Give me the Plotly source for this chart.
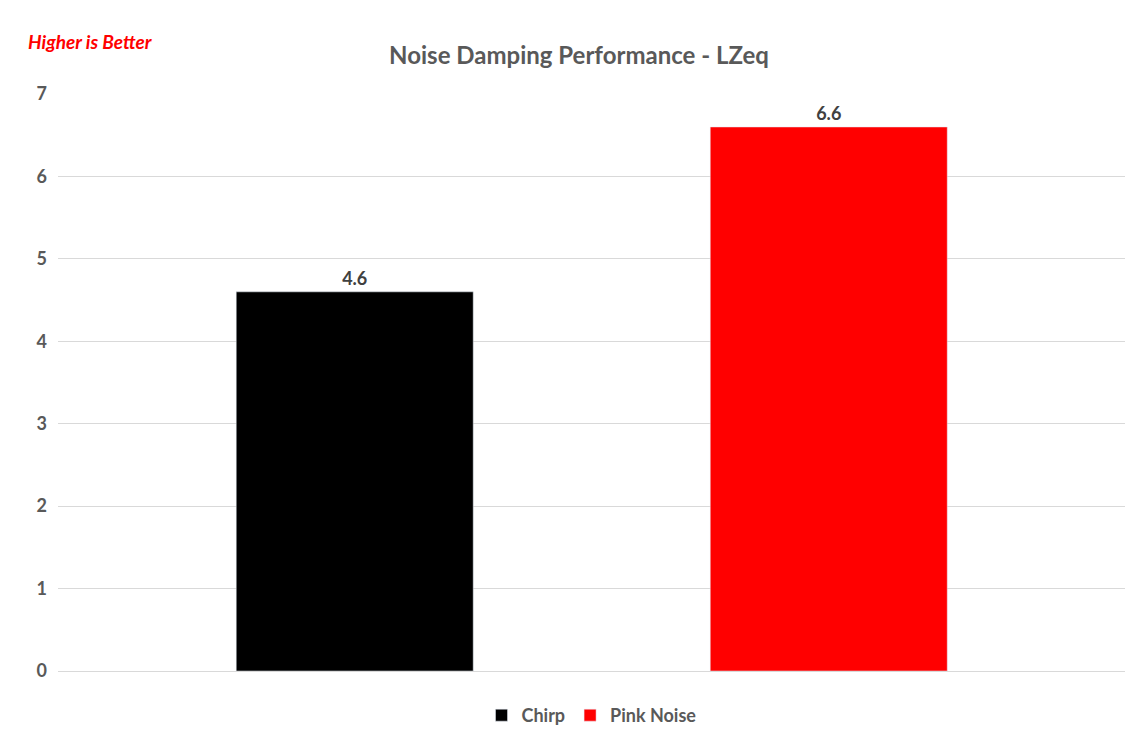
import plotly.graph_objects as go

series = ["Chirp", "Pink Noise"]
values = [4.6, 6.6]
colors = ["#000000", "#ff0000"]
positions = [0, 1]

fig = go.Figure()
for name, val, col, pos in zip(series, values, colors, positions):
    fig.add_trace(go.Bar(
        name=name, x=[pos], y=[val], width=0.5, marker_color=col,
        text=[f"{val:.1f}"], textposition="outside",
        textfont=dict(size=18, color="#404040", family="Lato", weight="bold"),
        cliponaxis=False,
    ))

fig.update_layout(
    width=1142, height=746,
    barmode="overlay",
    plot_bgcolor="white", paper_bgcolor="white",
    margin=dict(l=50, r=25, t=86, b=83),
    font=dict(family="Lato", color="#595959"),
    title=dict(text="<b>Noise Damping Performance - LZeq</b>", x=0.5, y=0.947,
               xanchor="center", font=dict(size=24, color="#595959")),
    xaxis=dict(range=[-0.626, 1.625], showticklabels=False, showgrid=False,
               zeroline=False, showline=True, linecolor="#d9d9d9"),
    yaxis=dict(range=[0, 7], dtick=1, showgrid=True, gridcolor="#d9d9d9",
               zeroline=False, tickfont=dict(size=18, color="#595959", weight="bold"),
               ticks="", ticklabelstandoff=10),
    legend=dict(orientation="h", x=0.5, xanchor="center", y=-0.045, yanchor="top",
                font=dict(size=18, color="#595959", weight="bold")),
    annotations=[dict(text="<b><i>Higher is Better</i></b>", xref="paper", yref="paper",
                      x=-0.03, y=1.115, xanchor="left", showarrow=False,
                      font=dict(size=19, color="#ff0000"))],
)
fig.write_html("out.html")
